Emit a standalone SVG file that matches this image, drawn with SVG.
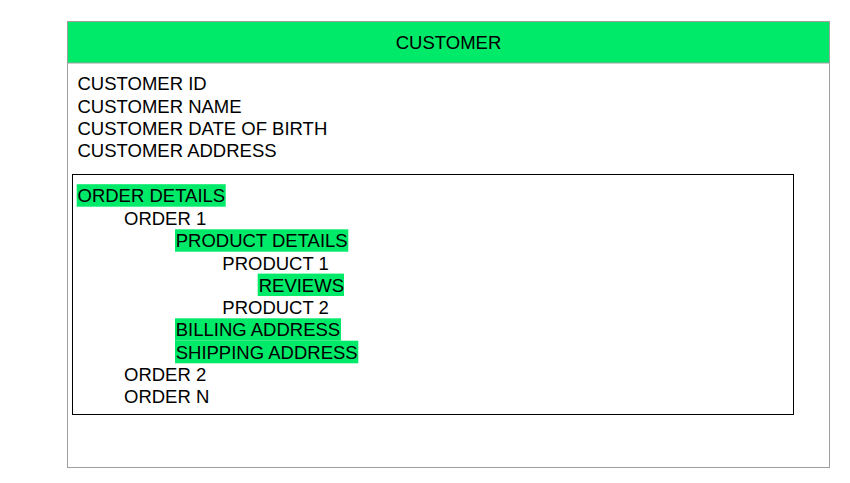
<svg xmlns="http://www.w3.org/2000/svg" width="850" height="483" viewBox="0 0 850 483">
<style>
.t{font-family:"Liberation Sans",Arial,sans-serif;font-size:18.5px;fill:#000}
.hl{fill:#00EA6A}
</style>
<rect width="850" height="483" fill="#fff"/>
<g id="customer">
<rect x="67.5" y="21.5" width="762" height="446" fill="#fff" stroke="#9e9e9e" stroke-width="1"/>
<rect x="67.5" y="21.5" width="762" height="41.5" class="hl" stroke="#9e9e9e" stroke-width="1"/>
<text class="t" x="448.5" y="49" text-anchor="middle">CUSTOMER</text>
<text class="t" x="77.5" y="90">CUSTOMER ID</text>
<text class="t" x="77.5" y="112.5">CUSTOMER NAME</text>
<text class="t" x="77.5" y="135">CUSTOMER DATE OF BIRTH</text>
<text class="t" x="77.5" y="157">CUSTOMER ADDRESS</text>
</g>
<g id="order-details">
<rect x="72.5" y="174.5" width="721" height="240" fill="none" stroke="#000" stroke-width="1"/>
<rect class="hl" x="76.7" y="184.2" width="149" height="22.5"/>
<rect class="hl" x="175" y="229.3" width="173.3" height="22.4"/>
<rect class="hl" x="257.7" y="273.6" width="86.3" height="22.4"/>
<rect class="hl" x="175" y="318.3" width="166" height="22.4"/>
<rect class="hl" x="175" y="340.7" width="183.3" height="22.6"/>
<text class="t" x="77.5" y="202">ORDER DETAILS</text>
<text class="t" x="124" y="224.5">ORDER 1</text>
<text class="t" x="175.7" y="247">PRODUCT DETAILS</text>
<text class="t" x="222.3" y="269.5">PRODUCT 1</text>
<text class="t" x="258.7" y="291.7">REVIEWS</text>
<text class="t" x="222.3" y="314">PRODUCT 2</text>
<text class="t" x="175.7" y="336.3">BILLING ADDRESS</text>
<text class="t" x="175.7" y="358.6">SHIPPING ADDRESS</text>
<text class="t" x="124" y="380.9">ORDER 2</text>
<text class="t" x="124" y="403">ORDER N</text>
</g>
<g id="connectors"/>
</svg>
